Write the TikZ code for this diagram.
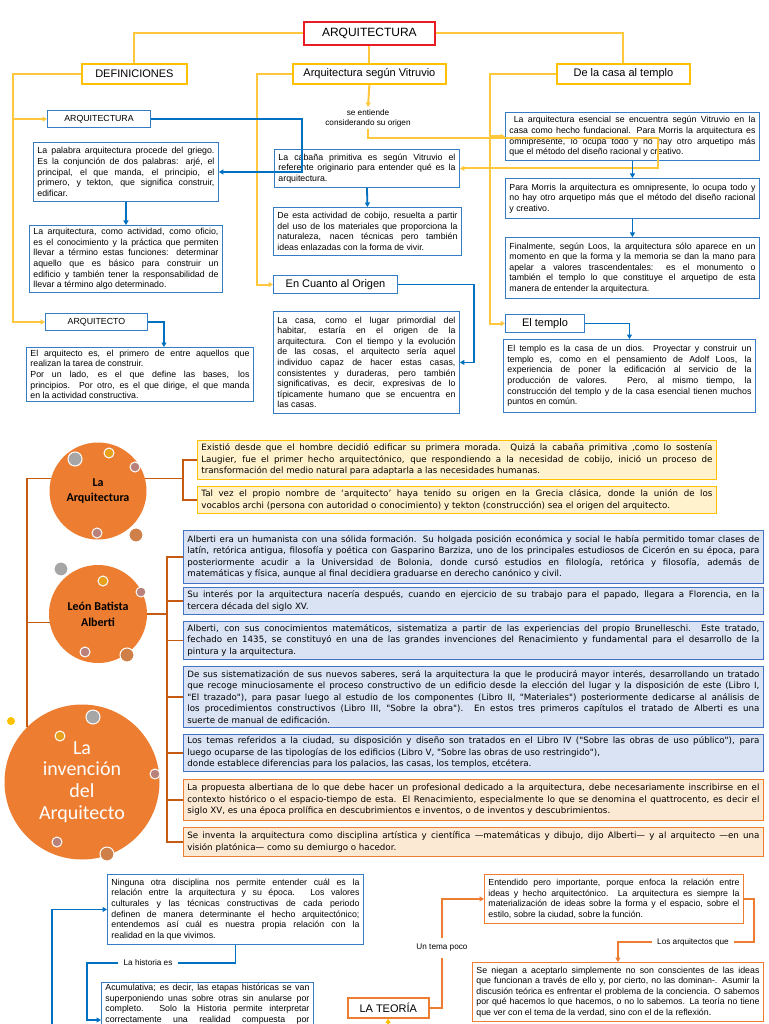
\documentclass[tikz,border=0pt]{standalone}
\usepackage{fontspec}
\setmainfont{Liberation Sans}
\newfontfamily\verdfont{DejaVu Sans}
\newfontfamily\califont{Carlito}
\usepackage{tikz}
\usetikzlibrary{arrows.meta,calc,positioning}
\definecolor{gold}{RGB}{255,192,0}
\definecolor{goldline}{RGB}{255,200,60}
\definecolor{titlered}{RGB}{232,28,36}
\definecolor{boxblue}{RGB}{52,125,196}
\definecolor{lineblue}{RGB}{0,112,192}
\definecolor{circorange}{RGB}{237,125,49}
\definecolor{branchbrown}{RGB}{197,90,17}
\definecolor{yfill}{RGB}{255,242,204}
\definecolor{bfill}{RGB}{218,227,243}
\definecolor{bborder}{RGB}{68,114,196}
\definecolor{ofill}{RGB}{252,233,212}
\definecolor{dotgray}{RGB}{166,166,166}
\definecolor{dotgold}{RGB}{230,160,30}
\definecolor{dotmauve}{RGB}{186,128,122}
\definecolor{dottan}{RGB}{206,128,72}
\newcommand{\toptext}{\fontsize{8.8}{10.6}\selectfont}
\newcommand{\midtext}{\verdfont\fontsize{8.7}{11.5}\selectfont}

\begin{document}
\begin{tikzpicture}[
  x=1pt, y=-1pt,
  head/.style={draw=gold, line width=1.8pt, fill=white, anchor=north west, inner sep=0pt, font=\fontsize{11}{13}\selectfont},
  sub/.style={draw=boxblue, line width=1pt, fill=white, anchor=north west, inner sep=0pt, font=\fontsize{8.8}{10}\selectfont},
  tbox/.style={draw=boxblue, line width=0.9pt, fill=white, anchor=north west, align=justify, inner xsep=4pt, inner ysep=1.5pt, font=\toptext},
  dbox/.style={line width=0.8pt, anchor=north west, align=justify, inner xsep=4pt, inner ysep=1.5pt, font=\midtext},
  ybox/.style={dbox, draw=gold, fill=yfill, text width=511pt},
  bbox/.style={dbox, draw=bborder, fill=bfill, text width=572pt},
  obox/.style={dbox, draw=circorange, fill=ofill, text width=572pt},
  circ/.style={circle, fill=circorange, inner sep=0pt, align=center},
  lbl/.style={fill=white, inner xsep=5pt, inner ysep=2pt, align=center, font=\fontsize{8.2}{10}\selectfont},
  yconn/.style={draw=goldline, line width=2pt},
  yarr/.style={yconn, -{Triangle[length=4.5pt,width=5pt]}},
  bconn/.style={draw=lineblue, line width=1.8pt},
  barr/.style={bconn, -{Triangle[length=4.5pt,width=5pt]}},
  oconn/.style={draw=circorange, line width=1.8pt},
  oarr/.style={oconn, -{Triangle[length=4.5pt,width=5pt]}},
  brconn/.style={draw=branchbrown, line width=1.8pt}
]
\useasboundingbox (0,0) rectangle (768,1024);
\clip (0,0) rectangle (768,1024);
\fill[white] (0,0) rectangle (768,1024);

% titles
\node[head, draw=titlered, minimum width=131pt, minimum height=23pt, font=\fontsize{12}{14}\selectfont] (arq) at (303,21) {ARQUITECTURA};
\node[head, minimum width=105pt, minimum height=20pt] (def) at (81,63) {DEFINICIONES};
\node[head, minimum width=153pt, minimum height=20pt] (vit) at (292,63) {Arquitectura según Vitruvio};
\node[head, minimum width=133pt, minimum height=20pt] (casa) at (556,63) {De la casa al templo};

% definiciones
\node[sub, minimum width=103pt, minimum height=17pt] (subarq) at (47,110) {ARQUITECTURA};
\node[tbox, text width=177pt, minimum height=59pt] (pal) at (33,142) {La palabra arquitectura procede del griego.\linebreak Es la conjunción de dos palabras: arjé, el\linebreak principal, el que manda, el principio, el\linebreak primero, y tekton, que significa construir,\linebreak edificar.};
\node[tbox, text width=185pt, minimum height=67pt] (act) at (29,225) {La arquitectura, como actividad, como oficio,\linebreak es el conocimiento y la práctica que permiten\linebreak llevar a término estas funciones: determinar\linebreak aquello que es básico para construir un\linebreak edificio y también tener la responsabilidad de\linebreak llevar a término algo determinado.};
\node[sub, minimum width=102pt, minimum height=17pt] (arqto) at (45,313) {ARQUITECTO};
\node[tbox, text width=219pt, minimum height=54pt] (atx) at (26,347) {El arquitecto es, el primero de entre aquellos que\linebreak realizan la tarea de construir.\\Por un lado, es el que define las bases, los\linebreak principios. Por otro, es el que dirige, el que manda\linebreak en la actividad constructiva.};

% vitruvio
\node[lbl, fill=none] (sent) at (368,118) {se entiende\\considerando su origen};
\node[tbox, text width=177pt, minimum height=38pt] (cab) at (274,149) {La cabaña primitiva es según Vitruvio el\linebreak referente originario para entender qué es la\linebreak arquitectura.};
\node[tbox, text width=180pt, minimum height=48pt] (cob) at (273,207) {De esta actividad de cobijo, resuelta a partir\linebreak del uso de los materiales que proporciona la\linebreak naturaleza, nacen técnicas pero también\linebreak ideas enlazadas con la forma de vivir.};
\node[sub, minimum width=124pt, minimum height=18pt, font=\fontsize{11}{13}\selectfont] (orig) at (273,275) {En Cuanto al Origen};
\node[tbox, text width=178pt, minimum height=102pt] (ctx) at (273,311) {La casa, como el lugar primordial del\linebreak habitar, estaría en el origen de la\linebreak arquitectura. Con el tiempo y la evolución\linebreak de las cosas, el arquitecto sería aquel\linebreak individuo capaz de hacer estas casas,\linebreak consistentes y duraderas, pero también\linebreak significativas, es decir, expresivas de lo\linebreak típicamente humano que se encuentra en\linebreak las casas.};

% casa y templo
\node[tbox, text width=246pt, minimum height=48pt] (esen) at (505,112) {\ La arquitectura esencial se encuentra según Vitruvio en la\linebreak casa como hecho fundacional. Para Morris la arquitectura es\linebreak omnipresente, lo ocupa todo y no hay otro arquetipo más\linebreak que el método del diseño racional y creativo.};
\node[tbox, text width=246pt, minimum height=40pt] (mor) at (505,178) {Para Morris la arquitectura es omnipresente, lo ocupa todo y\linebreak no hay otro arquetipo más que el método del diseño racional\linebreak y creativo.};
\node[tbox, text width=246pt, minimum height=61pt] (loos) at (505,237) {Finalmente, según Loos, la arquitectura sólo aparece en un\linebreak momento en que la forma y la memoria se dan la mano para\linebreak apelar a valores trascendentales: es el monumento o\linebreak también el templo lo que constituye el arquetipo de esta\linebreak manera de entender la arquitectura.};
\node[sub, minimum width=79pt, minimum height=18pt, font=\fontsize{11}{13}\selectfont] (templo) at (505,314) {El templo};
\node[tbox, text width=244pt, minimum height=73pt] (ttx) at (503,339) {El templo es la casa de un dios. Proyectar y construir un\linebreak templo es, como en el pensamiento de Adolf Loos, la\linebreak experiencia de poner la edificación al servicio de la\linebreak producción de valores. Pero, al mismo tiempo, la\linebreak construcción del templo y de la casa esencial tienen muchos\linebreak puntos en común.};

% top connectors
\draw[yconn] (arq.west) -| (def.north);
\draw[yconn] (arq.east) -| (casa.north);
\draw[yconn] (arq.south) -- (vit.north);
\draw[yarr] (def.west) -- ++(-68,0) |- (subarq.west);
\draw[yarr] (def.west) -- ++(-68,0) |- (arqto.west);
\draw[yarr] (vit.west) -- ++(-35,0) |- (orig.west);
\draw[yarr] (vit.south) -- (sent.north);
\draw[yarr] (sent.south) |- ++(290,9) |- (cab.east);
\draw[yarr] (casa.west) -- ++(-66,0) |- (esen.west);
\draw[yarr] (casa.west) -- ++(-66,0) |- (templo.west);
\draw[barr] (subarq.east) -- ++(151,0) |- (pal.east);
\draw[barr] (pal.south) -- (act.north);
\draw[barr] (arqto.east) -| ($(atx.north)+(24,0)$);
\draw[barr] (cab.south) -- (cob.north);
\draw[barr] (orig.east) -- ++(76,0) |- (ctx.east);
\draw[barr] (esen.south) -- (mor.north);
\draw[barr] (mor.south) -- (loos.north);
\draw[barr] (templo.east) -| (ttx.north);

% la invencion del arquitecto
\node[circ, minimum size=97pt, font=\califont\bfseries\fontsize{12}{14.3}\selectfont] (c1) at (98,491) {La\\Arquitectura};
\node[circ, minimum size=98pt, font=\califont\bfseries\fontsize{12}{15.7}\selectfont] (c2) at (98,614) {León Batista\\Alberti};
\node[circ, minimum size=155pt, text=white, font=\califont\fontsize{20}{21.7}\selectfont] (c3) at (82,782) {La\\invención\\del\\Arquitecto};
\foreach \x/\y/\r/\c in {75/459/7/dotgray, 109/453/5/dotgold, 135/467/5/dotmauve, 97/533/5/dotmauve, 136/535/7/dottan,
    61/569/7/dotgray, 103/581/5/dotgold, 141/592/5/dotmauve, 85/652/5/dotmauve, 127/655/7/dottan,
    93/717/7/dotgray, 60/736/5/dotgold, 155/774/5/dotmauve, 57/842/5/dotmauve, 107/854/7/dottan}
  \filldraw[fill=\c, draw=white, line width=1pt] (\x,\y) circle (\r pt);
\fill[gold] (11,721) circle (4pt);

\node[ybox, minimum height=39pt] (exi) at (197,440) {Existió desde que el hombre decidió edificar su primera morada. Quizá la cabaña primitiva ,como lo sostenía\linebreak Laugier, fue el primer hecho arquitectónico, que respondiendo a la necesidad de cobijo, inició un proceso de\linebreak transformación del medio natural para adaptarla a las necesidades humanas.};
\node[ybox, minimum height=27pt] (tal) at (197,486) {Tal vez el propio nombre de ‘arquitecto’ haya tenido su origen en la Grecia clásica, donde la unión de los\linebreak vocablos archi (persona con autoridad o conocimiento) y tekton (construcción) sea el origen del arquitecto.};
\node[bbox, minimum height=53pt] (al1) at (183,530) {Alberti era un humanista con una sólida formación. Su holgada posición económica y social le había permitido tomar clases de\linebreak latín, retórica antigua, filosofía y poética con Gasparino Barziza, uno de los principales estudiosos de Cicerón en su época, para\linebreak posteriormente acudir a la Universidad de Bolonia, donde cursó estudios en filología, retórica y filosofía, además de\linebreak matemáticas y física, aunque al final decidiera graduarse en derecho canónico y civil.};
\node[bbox, minimum height=27pt] (al2) at (183,587) {Su interés por la arquitectura nacería después, cuando en ejercicio de su trabajo para el papado, llegara a Florencia, en la\linebreak tercera década del siglo XV.};
\node[bbox, minimum height=38pt] (al3) at (183,621) {Alberti, con sus conocimientos matemáticos, sistematiza a partir de las experiencias del propio Brunelleschi. Este tratado,\linebreak fechado en 1435, se constituyó en una de las grandes invenciones del Renacimiento y fundamental para el desarrollo de la\linebreak pintura y la arquitectura.};
\node[bbox, minimum height=61pt] (al4) at (183,666) {De sus sistematización de sus nuevos saberes, será la arquitectura la que le producirá mayor interés, desarrollando un tratado\linebreak que recoge minuciosamente el proceso constructivo de un edificio desde la elección del lugar y la disposición de este (Libro I,\linebreak "El trazado"), para pasar luego al estudio de los componentes (Libro II, "Materiales") posteriormente dedicarse al análisis de\linebreak los procedimientos constructivos (Libro III, "Sobre la obra"). En estos tres primeros capítulos el tratado de Alberti es una\linebreak suerte de manual de edificación.};
\node[bbox, minimum height=37pt] (al5) at (183,734) {Los temas referidos a la ciudad, su disposición y diseño son tratados en el Libro IV ("Sobre las obras de uso público"), para\linebreak luego ocuparse de las tipologías de los edificios (Libro V, "Sobre las obras de uso restringido"),\\donde establece diferencias para los palacios, las casas, los templos, etcétera.};
\node[obox, minimum height=41pt] (al6) at (183,779) {La propuesta albertiana de lo que debe hacer un profesional dedicado a la arquitectura, debe necesariamente inscribirse en el\linebreak contexto histórico o el espacio-tiempo de esta. El Renacimiento, especialmente lo que se denomina el quattrocento, es decir el\linebreak siglo XV, es una época prolífica en descubrimientos e inventos, o de inventos y descubrimientos.};
\node[obox, minimum height=29pt] (al7) at (183,827) {Se inventa la arquitectura como disciplina artística y científica —matemáticas y dibujo, dijo Alberti— y al arquitecto —en una\linebreak visión platónica— como su demiurgo o hacedor.};

\draw[brconn] (c3.135) |- (c1.165);
\draw[brconn] (c3.135) |- (c2.190);
\draw[brconn] (c1.15) -- ++(38,0) |- (exi.west);
\draw[brconn] (c1.15) -- ++(38,0) |- (tal.west);
\foreach \b in {al1,al2,al3,al4,al5,al6,al7}
  \draw[brconn] (c2.east) -- ++(20,0) |- (\b.west);

% historia y teoria
\node[tbox, text width=248pt, minimum height=70pt] (ning) at (107,874) {Ninguna otra disciplina nos permite entender cuál es la\linebreak relación entre la arquitectura y su época. Los valores\linebreak culturales y las técnicas constructivas de cada periodo\linebreak definen de manera determinante el hecho arquitectónico;\linebreak entendemos así cuál es nuestra propia relación con la\linebreak realidad en la que vivimos.};
\node[lbl] (hist) at (148,963) {La historia es};
\node[tbox, text width=204pt] (acum) at (101,982) {Acumulativa; es decir, las etapas históricas se van\linebreak superponiendo unas sobre otras sin anularse por\linebreak completo. Solo la Historia permite interpretar\linebreak correctamente una realidad compuesta por\linebreak\mbox{}};
\coordinate (hsrc) at (52,1040);
\draw[bconn] (ning.south) |- (hist.east);
\draw[barr] (hist.west) -| ($(acum.north west)+(-14,0)$) |- ($(acum.north west)+(0,38)$);
\draw[barr] (hsrc) |- (ning.west);

\node[head, draw=circorange, line width=1.5pt, minimum width=81pt, minimum height=20pt] (teoria) at (347,997) {LA TEORÍA};
\node[tbox, draw=circorange, text width=251pt, minimum height=49pt] (ent) at (484,874) {Entendido pero importante, porque enfoca la relación entre\linebreak ideas y hecho arquitectónico. La arquitectura es siempre la\linebreak materialización de ideas sobre la forma y el espacio, sobre el\linebreak estilo, sobre la ciudad, sobre la función.};
\node[tbox, draw=circorange, text width=283pt, minimum height=59pt] (nieg) at (472,962) {Se niegan a aceptarlo simplemente no son conscientes de las ideas\linebreak que funcionan a través de ello y, por cierto, no las dominan-. Asumir la\linebreak discusión teórica es enfrentar el problema de la conciencia. O sabemos\linebreak por qué hacemos lo que hacemos, o no lo sabemos. La teoría no tiene\linebreak que ver con el tema de la verdad, sino con el de la reflexión.};
\node[lbl, inner ysep=6pt] (tema) at (442,948) {Un tema poco};
\node[lbl] (arqq) at (693,942) {Los arquitectos que};
\coordinate (tsrc) at (387.5,1040);
\draw[yarr, draw=gold] (tsrc) -- (teoria.south);
\draw[oconn] (teoria.east) -| (tema.south);
\draw[oarr] (tema.north) |- (ent.west);
\draw[oconn] (ent.east) -- ++(10,0) |- (arqq.east);
\draw[oarr] (arqq.west) -| (nieg.north);
\end{tikzpicture}
\end{document}
